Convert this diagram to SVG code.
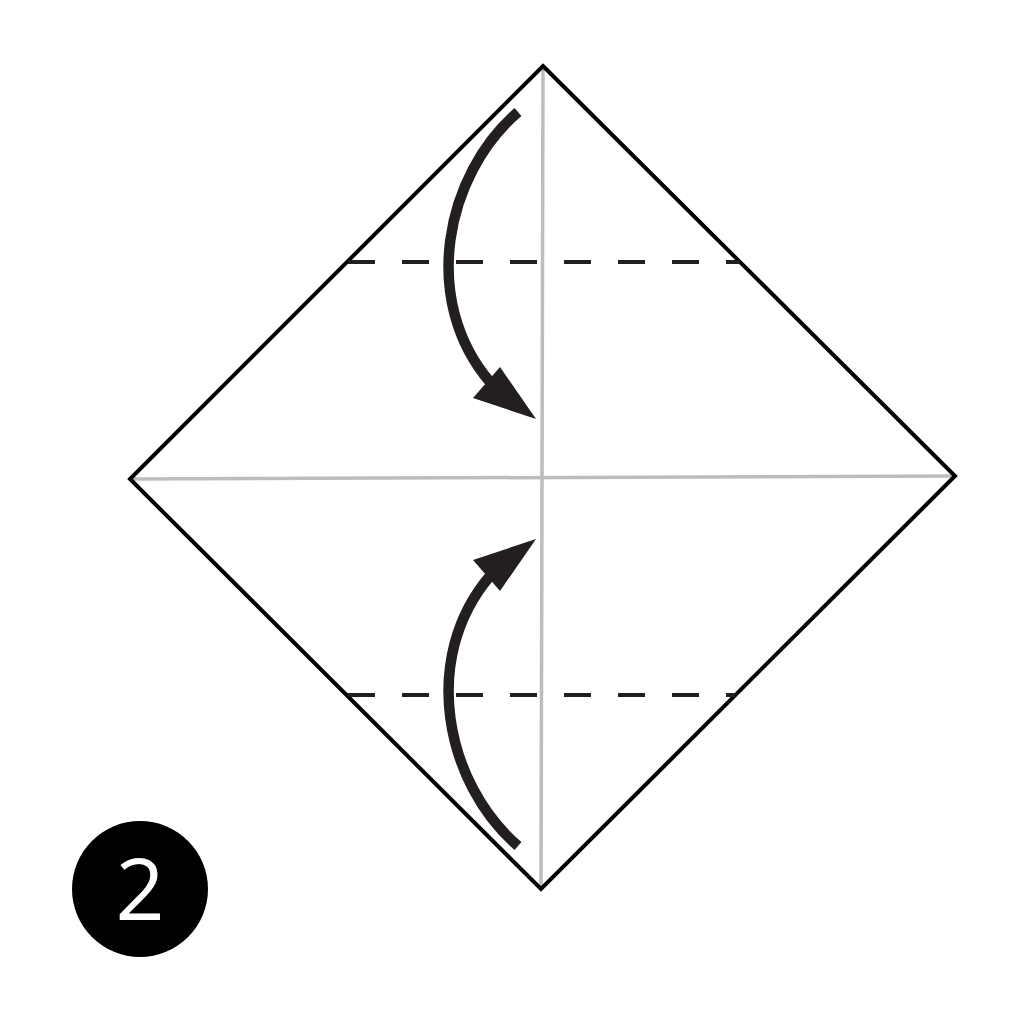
<svg xmlns="http://www.w3.org/2000/svg" width="1024" height="1024" viewBox="0 0 1024 1024">
<defs>
<style>
.edge{fill:none;stroke:#000;stroke-width:4;stroke-linejoin:miter}
.crease{fill:none;stroke:#bdbdbd;stroke-width:3.5}
.fold{fill:none;stroke:#231f20;stroke-width:4;stroke-dasharray:27 27}
.shaft{fill:none;stroke:#231f20;stroke-width:10.5}
.head{fill:#231f20}
.num{font-family:"Open Sans","Liberation Sans",sans-serif;font-size:86px;fill:#fff;text-anchor:middle}
</style>
</defs>
<rect width="1024" height="1024" fill="#fff"/>
<g id="paper">
<line class="crease" x1="543" y1="66" x2="541" y2="889"/>
<line class="crease" x1="130" y1="479" x2="955" y2="476"/>
<polygon class="edge" points="543,66 955,476 541,889 130,479"/>
</g>
<g id="folds">
<line class="fold" x1="348" y1="262" x2="740" y2="262"/>
<line class="fold" x1="348" y1="695" x2="735" y2="695"/>
</g>
<g id="connectors">
<g id="arrow-top">
<path class="shaft" d="M518,112 C445,175 420,300 490,382"/>
<polygon class="head" points="536,419 473,398 500,367"/>
</g>
<g id="arrow-bottom">
<path class="shaft" d="M518,846 C445,783 420,658 490,576"/>
<polygon class="head" points="536,539 473,560 500,591"/>
</g>
</g>
<g id="step-badge">
<circle cx="140" cy="889" r="68" fill="#000"/>
<text class="num" x="140" y="920">2</text>
</g>
</svg>
